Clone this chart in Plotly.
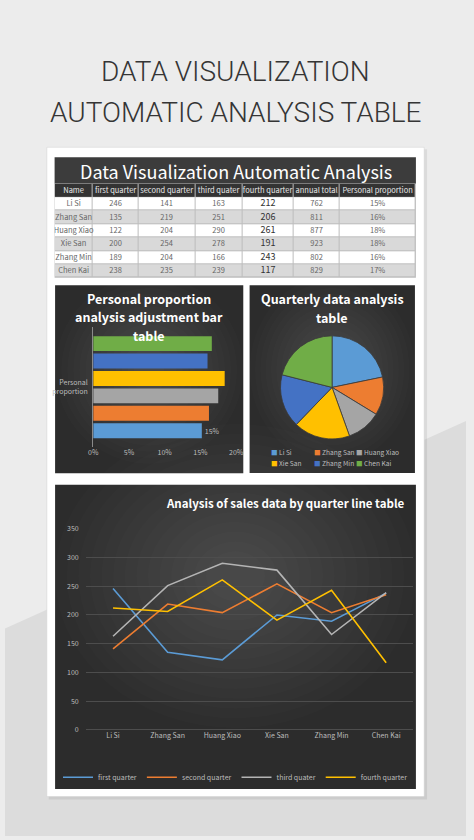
import plotly.graph_objects as go

W, H = 474, 840
FONT = "Noto Sans CJK SC"

# ---------------- data ----------------
names = ["Li Si", "Zhang San", "Huang Xiao", "Xie San", "Zhang Min", "Chen Kai"]
first_q = [246, 135, 122, 200, 189, 238]
second_q = [141, 219, 204, 254, 204, 235]
third_q = [163, 251, 290, 278, 166, 239]
fourth_q = [212, 206, 261, 191, 243, 117]
annual_total = [762, 811, 877, 923, 802, 829]
proportion = [0.152, 0.162, 0.175, 0.184, 0.160, 0.166]
proportion_labels = ["15%", "16%", "18%", "18%", "16%", "17%"]
table_headers = ["Name", "first quarter", "second quarter", "third quater",
                 "fourth quarter", "annual total", "Personal proportion"]
quarter_names = ["first quarter", "second quarter", "third quater", "fourth quarter"]
bar_category = "Personal proportion"
bar_ticks = [0, 0.05, 0.10, 0.15, 0.20]
line_ticks = [0, 50, 100, 150, 200, 250, 300, 350]

person_colors = ["#5b9bd5", "#ed7d31", "#a5a5a5", "#ffc000", "#4472c4", "#70ad47"]
quarter_colors = ["#5b9bd5", "#ed7d31", "#b4b4b4", "#ffc000"]

# table column widths (layout, px)
col_widths = [39, 47, 59, 48, 53, 47, 78.5]


def X(p):
    return p / W


def Y(p):
    return 1 - p / H


fig = go.Figure()
shapes = []
annotations = []

# ---------------- page background ----------------
shapes.append(dict(type="path", xref="paper", yref="paper", layer="below",
                   path=f"M 0,{Y(630)} L 1,{Y(420)} L 1,0 L 0,0 Z",
                   fillcolor="#dcdcdc", line=dict(width=0)))
shapes.append(dict(type="rect", xref="paper", yref="paper", layer="below",
                   x0=X(45), x1=X(434), y0=Y(803), y1=Y(145),
                   fillcolor="rgba(0,0,0,0.07)", line=dict(width=0)))
shapes.append(dict(type="rect", xref="paper", yref="paper", layer="below",
                   x0=X(43), x1=X(431), y0=Y(800), y1=Y(143),
                   fillcolor="#ffffff", line=dict(color="#d0d0d0", width=0.5)))


def panel(x0, y0, x1, y1, cy_frac=0.45):
    shapes.append(dict(type="rect", xref="paper", yref="paper", layer="below",
                       x0=X(x0), x1=X(x1), y0=Y(y1), y1=Y(y0),
                       fillcolor="#2c2c2c", line=dict(width=0)))
    cx = (x0 + x1) / 2
    cy = y0 + (y1 - y0) * cy_frac
    hw = (x1 - x0) / 2
    hh = (y1 - y0) / 2
    n = 14
    for k in range(n):
        f = 1.0 - k * (0.9 / n)
        shapes.append(dict(type="circle", xref="paper", yref="paper", layer="below",
                           x0=X(cx - hw * f), x1=X(cx + hw * f),
                           y0=Y(cy + hh * f), y1=Y(cy - hh * f),
                           fillcolor="rgba(255,255,255,0.012)", line=dict(width=0)))


panel(51.5, 282.5, 245, 473)
panel(251.5, 282.5, 421.5, 472.5)
panel(51.5, 484.5, 422.5, 792.5, cy_frac=0.3)

# ---------------- main title ----------------
for txt, yy in [("DATA VISUALIZATION", 66), ("AUTOMATIC ANALYSIS TABLE", 108)]:
    annotations.append(dict(text=txt, x=X(237), y=Y(yy), xref="paper", yref="paper",
                            showarrow=False, xanchor="center", yanchor="middle",
                            font=dict(family="Roboto, " + FONT, size=28, color="#353535", weight=300)))

# ---------------- table ----------------
shapes.append(dict(type="rect", xref="paper", yref="paper", layer="below",
                   x0=X(51), x1=X(422.5), y0=Y(180), y1=Y(153),
                   fillcolor="#3c3c3c", line=dict(width=0)))
shapes.append(dict(type="rect", xref="paper", yref="paper", layer="below",
                   x0=X(51), x1=X(422.5), y0=Y(275), y1=Y(180),
                   fillcolor="#bdbdbd", line=dict(width=0)))
annotations.append(dict(text="Data Visualization Automatic Analysis", x=X(237), y=Y(166.5),
                        xref="paper", yref="paper", showarrow=False,
                        xanchor="center", yanchor="middle",
                        font=dict(family=FONT, size=18, color="#ffffff")))

col_edges = [0]
for w in col_widths:
    col_edges.append(col_edges[-1] + w)
n_rows = len(names)
columns = [names, first_q, second_q, third_q, fourth_q, annual_total, proportion_labels]
BIG_COL = 4  # fourth quarter column drawn with larger font

# header row
fig.add_trace(go.Heatmap(
    z=[[0] * len(table_headers)], x=col_edges, y=[0, 1],
    text=[table_headers], texttemplate="%{text}",
    textfont=dict(family=FONT, size=7.5, color="#e8e8e8"),
    colorscale=[[0, "#333333"], [1, "#333333"]], showscale=False,
    xgap=1, ygap=0, hoverinfo="skip", xaxis="x3", yaxis="y3"))

# body rows
body_text = [[(str(columns[c][r]) if c != BIG_COL else "") for c in range(len(columns))]
             for r in range(n_rows)]
fig.add_trace(go.Heatmap(
    z=[[r % 2] * len(columns) for r in range(n_rows)],
    x=col_edges, y=list(range(1, n_rows + 2)),
    text=body_text, texttemplate="%{text}",
    textfont=dict(family=FONT, size=7.5, color="#666666"),
    colorscale=[[0, "#ffffff"], [1, "#d9d9d9"]], zmin=0, zmax=1, showscale=False,
    xgap=1, ygap=1, hoverinfo="skip", xaxis="x3", yaxis="y3"))

fig.add_trace(go.Scatter(
    x=[(col_edges[BIG_COL] + col_edges[BIG_COL + 1]) / 2] * n_rows,
    y=[r + 1.5 for r in range(n_rows)],
    text=[str(v) for v in fourth_q], mode="text",
    textfont=dict(family=FONT, size=9, color="#333333"),
    hoverinfo="skip", showlegend=False, xaxis="x3", yaxis="y3"))

# ---------------- bar chart ----------------
for i, (nm, v, c) in enumerate(zip(names, proportion, person_colors)):
    fig.add_trace(go.Bar(
        x=[v], y=[bar_category], orientation="h", name=nm,
        marker=dict(color=c, line=dict(width=0)),
        text=[proportion_labels[i]] if i == 0 else None,
        textposition="outside" if i == 0 else "none",
        textfont=dict(family=FONT, size=7, color="#bdbdbd"),
        cliponaxis=False, showlegend=False,
        xaxis="x", yaxis="y"))

for j, line_txt in enumerate(["Personal proportion", "analysis adjustment bar", "table"]):
    annotations.append(dict(text=line_txt, x=X(148.5), y=Y(296 + j * 18.5), xref="paper", yref="paper",
                            showarrow=False, xanchor="center", yanchor="middle",
                            font=dict(family=FONT, size=12.5, color="#ffffff", weight="bold")))

# ---------------- pie chart ----------------
fig.add_trace(go.Pie(
    labels=names, values=first_q, sort=False, direction="clockwise", rotation=0,
    marker=dict(colors=person_colors, line=dict(color="#3a3a3a", width=0.8)),
    textinfo="none", hoverinfo="label+value+percent", showlegend=False,
    domain=dict(x=[X(283.3), X(389.3)], y=[Y(439), Y(333)])))

for j, line_txt in enumerate(["Quarterly data analysis", "table"]):
    annotations.append(dict(text=line_txt, x=X(336.5), y=Y(296.5 + j * 18.5), xref="paper", yref="paper",
                            showarrow=False, xanchor="center", yanchor="middle",
                            font=dict(family=FONT, size=12.5, color="#ffffff", weight="bold")))

leg_cols = [271.5, 315.5, 358.5]
leg_rows = [451, 462.5]
for i, (nm, c) in enumerate(zip(names, person_colors)):
    annotations.append(dict(
        text=f'<span style="color:{c}">■</span> {nm}',
        x=X(leg_cols[i % 3]), y=Y(leg_rows[i // 3]), xref="paper", yref="paper",
        showarrow=False, xanchor="left", yanchor="middle",
        font=dict(family=FONT, size=6.6, color="#bdbdbd")))

# ---------------- line chart ----------------
for qn, vals, c in zip(quarter_names, [first_q, second_q, third_q, fourth_q], quarter_colors):
    fig.add_trace(go.Scatter(
        x=names, y=vals, mode="lines", name=qn,
        line=dict(color=c, width=1.6), xaxis="x2", yaxis="y2"))

annotations.append(dict(text="Analysis of sales data by quarter line table", x=X(288), y=Y(503),
                        xref="paper", yref="paper", showarrow=False,
                        xanchor="center", yanchor="middle",
                        font=dict(family=FONT, size=11.5, color="#ffffff", weight="bold")))

fig.update_layout(
    width=W, height=H,
    margin=dict(l=0, r=0, t=0, b=0),
    paper_bgcolor="#ececec", plot_bgcolor="rgba(0,0,0,0)",
    font=dict(family=FONT),
    barmode="group", bargap=0.13, bargroupgap=0.14,
    shapes=shapes, annotations=annotations,
    xaxis=dict(domain=[X(90.7), X(237.7)], range=[0, 0.2001], tickvals=bar_ticks,
               tickformat=".0%", showgrid=False, zeroline=False, showline=False,
               tickfont=dict(family=FONT, size=7, color="#bdbdbd"), ticks="",
               fixedrange=True, anchor="y"),
    yaxis=dict(domain=[Y(446.5), Y(325)], type="category",
               tickvals=[bar_category], ticktext=["Personal<br>proportion"],
               showline=True, linecolor="#8a8a8a", linewidth=1, showgrid=False,
               tickfont=dict(family=FONT, size=7, color="#bdbdbd"), ticks="",
               ticklabelstandoff=3, fixedrange=True, anchor="x"),
    xaxis2=dict(domain=[X(83), X(420)], type="category", range=[-0.5, 5.5],
                showgrid=False, zeroline=False, showline=False, ticks="",
                tickfont=dict(family=FONT, size=7, color="#bdbdbd"),
                anchor="y2", fixedrange=True),
    yaxis2=dict(domain=[Y(732.7), Y(529)], range=[0, 350], tickvals=line_ticks,
                showgrid=True, gridcolor="#4d4d4d", gridwidth=1,
                zeroline=True, zerolinecolor="#4d4d4d", zerolinewidth=1,
                showline=False, ticks="", ticklabelstandoff=6,
                tickfont=dict(family=FONT, size=7, color="#bdbdbd"),
                anchor="x2", fixedrange=True),
    xaxis3=dict(domain=[X(51), X(422.5)], range=[0, col_edges[-1]], visible=False,
                fixedrange=True, anchor="y3"),
    yaxis3=dict(domain=[Y(275), Y(180)], range=[n_rows + 1, 0], visible=False,
                fixedrange=True, anchor="x3"),
    legend=dict(orientation="h", x=X(237), xanchor="center", y=Y(780.5), yanchor="middle",
                font=dict(family=FONT, size=7, color="#bdbdbd"),
                bgcolor="rgba(0,0,0,0)", itemwidth=30, tracegroupgap=0),
    hovermode="closest",
)

fig.write_html("out.html", config={"displayModeBar": False},
               post_script="document.body.style.margin='0';document.body.style.overflow='hidden';")
